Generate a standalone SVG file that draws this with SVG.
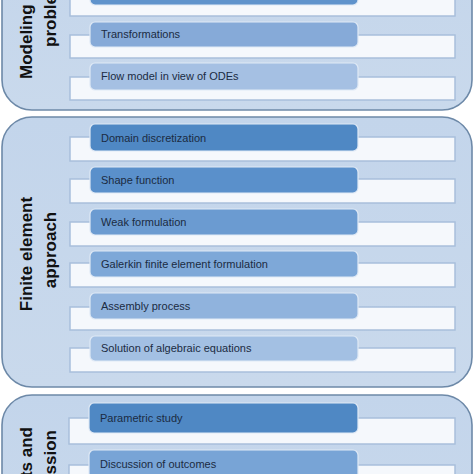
<svg xmlns="http://www.w3.org/2000/svg" width="474" height="474" viewBox="0 0 474 474">
<defs>
<linearGradient id="pg" x1="0" y1="0" x2="0" y2="1">
<stop offset="0" stop-color="#c3d5eb"/>
<stop offset="1" stop-color="#c9d9ec"/>
</linearGradient>
</defs>
<style>
.panel{fill:url(#pg);stroke:#6d89a8;stroke-width:1.6}
.strip{fill:#f5f8fc;stroke:#a8bfdb;stroke-width:1.5}
.box{stroke:#dfe9f5;stroke-width:1.2}
.bt{font-family:"Liberation Sans",Arial,sans-serif;font-size:11px;fill:#1b2b42}
.pt{font-family:"Liberation Sans",Arial,sans-serif;font-size:17px;font-weight:bold;fill:#111}
</style>
<rect width="474" height="474" fill="#ffffff"/>

<g id="panel1">
<rect class="panel" x="2" y="-80" width="470" height="190" rx="30"/>
<text class="pt" transform="translate(32,79) rotate(-90)">Modeling</text>
<text class="pt" transform="translate(56,47) rotate(-90)">problem</text>
</g>
<g id="panel2">
<rect class="panel" x="2" y="117" width="470" height="270" rx="30"/>
<text class="pt" text-anchor="middle" transform="translate(32,254) rotate(-90)">Finite element</text>
<text class="pt" text-anchor="middle" transform="translate(56,250) rotate(-90)">approach</text>
</g>
<g id="panel3">
<rect class="panel" x="2" y="395" width="470" height="180" rx="30"/>
<text class="pt" text-anchor="end" transform="translate(32,427) rotate(-90)">Results and</text>
<text class="pt" text-anchor="end" transform="translate(56,430) rotate(-90)">discussion</text>
</g>

<g id="connectors"></g>

<g id="n1">
<rect class="strip" x="70" y="-7" width="385" height="23"/>
<rect class="box" x="90" y="-21" width="268" height="26" rx="5" fill="#5f93cc"/>
</g>
<g id="n2">
<rect class="strip" x="70" y="35" width="385" height="23"/>
<rect class="box" x="90" y="22" width="268" height="25" rx="5" fill="#86aad8"/>
<text class="bt" x="101" y="38">Transformations</text>
</g>
<g id="n3">
<rect class="strip" x="70" y="77" width="385" height="23"/>
<rect class="box" x="90" y="63" width="268" height="27" rx="5" fill="#a5c0e3"/>
<text class="bt" x="101" y="80">Flow model in view of ODEs</text>
</g>

<g id="n4">
<rect class="strip" x="70" y="137" width="385" height="24"/>
<rect class="box" x="90" y="124" width="268" height="27" rx="5" fill="#4f88c4"/>
<text class="bt" x="101" y="141.5">Domain discretization</text>
</g>
<g id="n5">
<rect class="strip" x="70" y="179" width="385" height="24"/>
<rect class="box" x="90" y="167" width="268" height="26" rx="5" fill="#5a90cb"/>
<text class="bt" x="101" y="184">Shape function</text>
</g>
<g id="n6">
<rect class="strip" x="70" y="222" width="385" height="24"/>
<rect class="box" x="90" y="209" width="268" height="26" rx="5" fill="#6b9bd1"/>
<text class="bt" x="101" y="226">Weak formulation</text>
</g>
<g id="n7">
<rect class="strip" x="70" y="263" width="385" height="24"/>
<rect class="box" x="90" y="251" width="268" height="26" rx="5" fill="#7ea8d8"/>
<text class="bt" x="101" y="268">Galerkin finite element formulation</text>
</g>
<g id="n8">
<rect class="strip" x="70" y="307" width="385" height="23"/>
<rect class="box" x="90" y="293" width="268" height="26" rx="5" fill="#90b3dd"/>
<text class="bt" x="101" y="310">Assembly process</text>
</g>
<g id="n9">
<rect class="strip" x="70" y="348" width="385" height="24"/>
<rect class="box" x="90" y="336" width="268" height="25" rx="5" fill="#a3c0e3"/>
<text class="bt" x="101" y="352">Solution of algebraic equations</text>
</g>

<g id="n10">
<rect class="strip" x="69" y="418" width="386" height="26"/>
<rect class="box" x="89" y="403" width="269" height="30" rx="5" fill="#4f88c4"/>
<text class="bt" x="100" y="422">Parametric study</text>
</g>
<g id="n11">
<rect class="strip" x="69" y="465" width="386" height="26"/>
<rect class="box" x="89" y="450" width="269" height="30" rx="5" fill="#78a4d6"/>
<text class="bt" x="100" y="468">Discussion of outcomes</text>
</g>
</svg>
